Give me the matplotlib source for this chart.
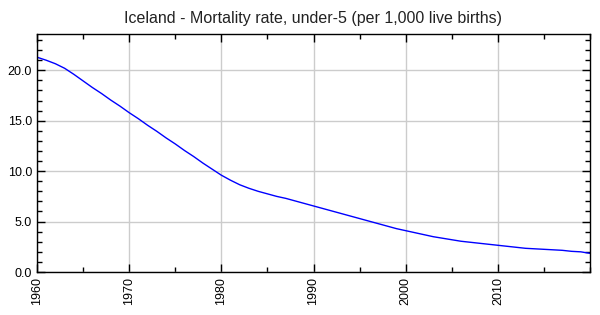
import matplotlib
matplotlib.use('Agg')
import matplotlib.pyplot as plt
from matplotlib.ticker import MultipleLocator, FormatStrFormatter

years = list(range(1960, 2021))
rate = [21.3, 21.0, 20.65, 20.2, 19.6, 18.95, 18.3, 17.7, 17.05, 16.45,
        15.8, 15.2, 14.55, 13.95, 13.3, 12.7, 12.05, 11.45, 10.8, 10.2,
        9.6, 9.1, 8.65, 8.3, 8.0, 7.75, 7.5, 7.3, 7.05, 6.8,
        6.55, 6.3, 6.05, 5.8, 5.55, 5.3, 5.05, 4.8, 4.55, 4.3,
        4.1, 3.9, 3.7, 3.5, 3.35, 3.2, 3.05, 2.95, 2.85, 2.75,
        2.65, 2.55, 2.45, 2.35, 2.3, 2.25, 2.2, 2.15, 2.05, 2.0, 1.85]
xticks = [1960, 1970, 1980, 1990, 2000, 2010]
title = 'Iceland - Mortality rate, under-5 (per 1,000 live births)'

plt.rcParams['font.family'] = ['Liberation Sans', 'DejaVu Sans']

fig = plt.figure(figsize=(6, 3.15), dpi=100)
ax = fig.add_axes([0.0617, 0.1365, 0.9216, 0.7555])

ax.plot(years, rate, color='#0000ff', linewidth=1)

ax.set_xlim(1960, 2020)
ax.set_ylim(0, 23.6)
ax.set_xticks(xticks)
ax.xaxis.set_minor_locator(MultipleLocator(5))
ax.yaxis.set_major_locator(MultipleLocator(5))
ax.yaxis.set_minor_locator(MultipleLocator(1))
ax.yaxis.set_major_formatter(FormatStrFormatter('%.1f'))

ax.tick_params(which='both', direction='in', top=True, right=True,
               labelsize=9, colors='#000000')
ax.tick_params(which='major', length=6, width=1)
ax.tick_params(which='minor', length=3.5, width=1)
ax.tick_params(axis='x', labelrotation=90)
ax.grid(True, which='major', color='#cccccc', linewidth=1)
ax.set_axisbelow(True)
for spine in ax.spines.values():
    spine.set_color('#000000')
    spine.set_linewidth(1)

ax.set_title(title, fontsize=11.5, color='#222222', pad=8)

fig.savefig('out.png', dpi=100)
